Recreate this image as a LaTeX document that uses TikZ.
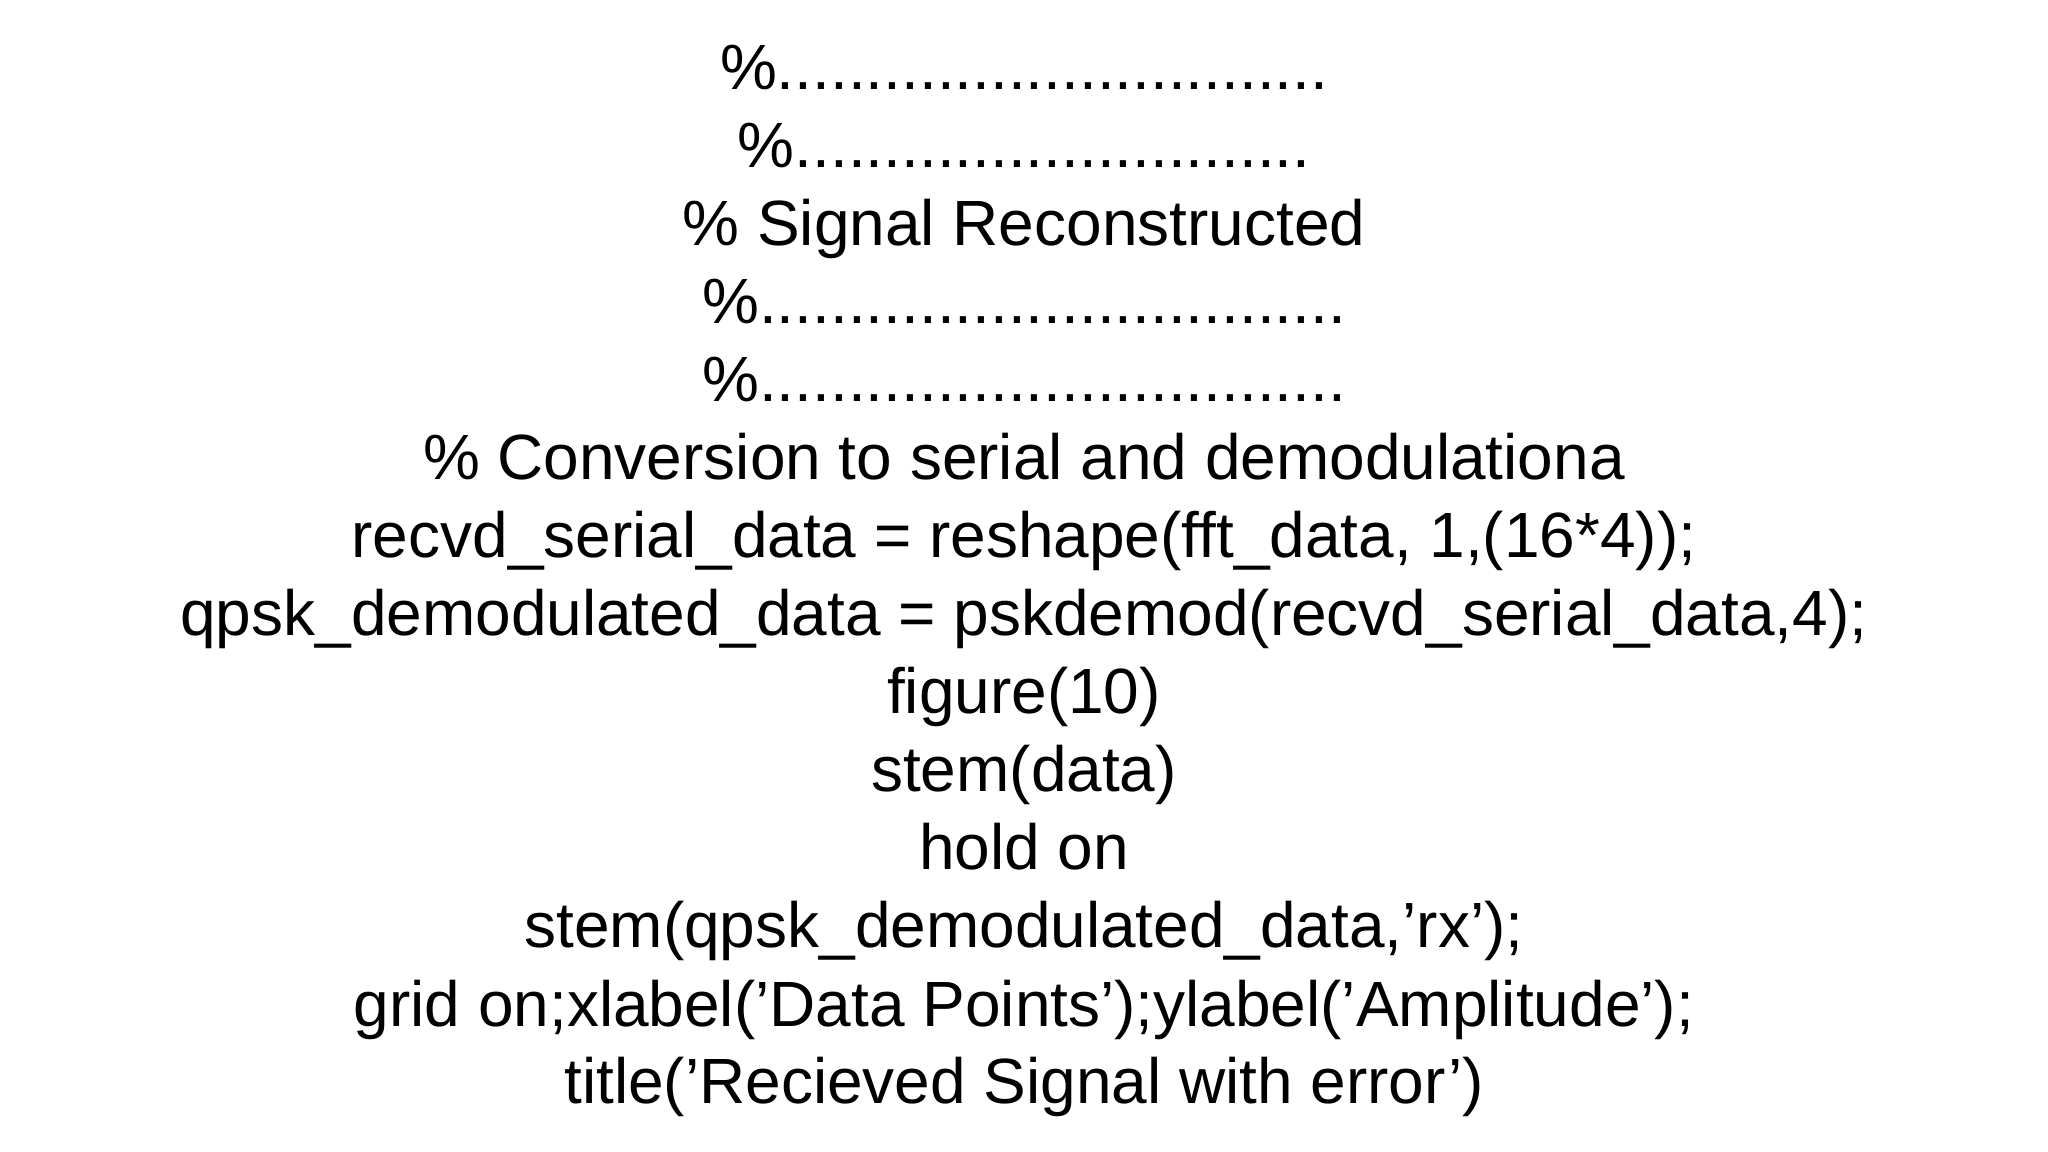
\documentclass[tikz,border=0pt]{standalone}
\usepackage{fontspec}
\setmainfont{Liberation Sans}
\usetikzlibrary{positioning}
\tikzset{
  codeline/.style={font=\fontsize{18.2}{20}\selectfont,inner sep=0,anchor=base},
}
\begin{document}
\begin{tikzpicture}[x=0.1mm,y=-0.1mm]
  \useasboundingbox (0,0) rectangle (2048,1152);
  \node (dotsA) [codeline] at (1024,90) {\%...............................};
  \node (dotsB) [codeline] at (1024,168) {\%.............................};
  \node (recon) [codeline] at (1024,246) {\% Signal Reconstructed};
  \node (dotsC) [codeline] at (1024,324) {\%.................................};
  \node (dotsD) [codeline] at (1024,402) {\%.................................};
  \node (conv) [codeline] at (1024,480) {\% Conversion to serial and demodulationa};
  \node (serial) [codeline] at (1024,558) {recvd\_serial\_data = reshape(fft\_data, 1,(16*4));};
  \node (demod) [codeline] at (1024,636) {qpsk\_demodulated\_data = pskdemod(recvd\_serial\_data,4);};
  \node (fig) [codeline] at (1024,714) {figure(10)};
  \node (stemA) [codeline] at (1024,792) {stem(data)};
  \node (hold) [codeline] at (1024,870) {hold on};
  \node (stemB) [codeline] at (1024,948) {stem(qpsk\_demodulated\_data,'rx');};
  \node (grid) [codeline] at (1024,1026) {grid on;xlabel('Data Points');ylabel('Amplitude');};
  \node (title) [codeline] at (1024,1104) {title('Recieved Signal with error')};
\end{tikzpicture}
\end{document}
